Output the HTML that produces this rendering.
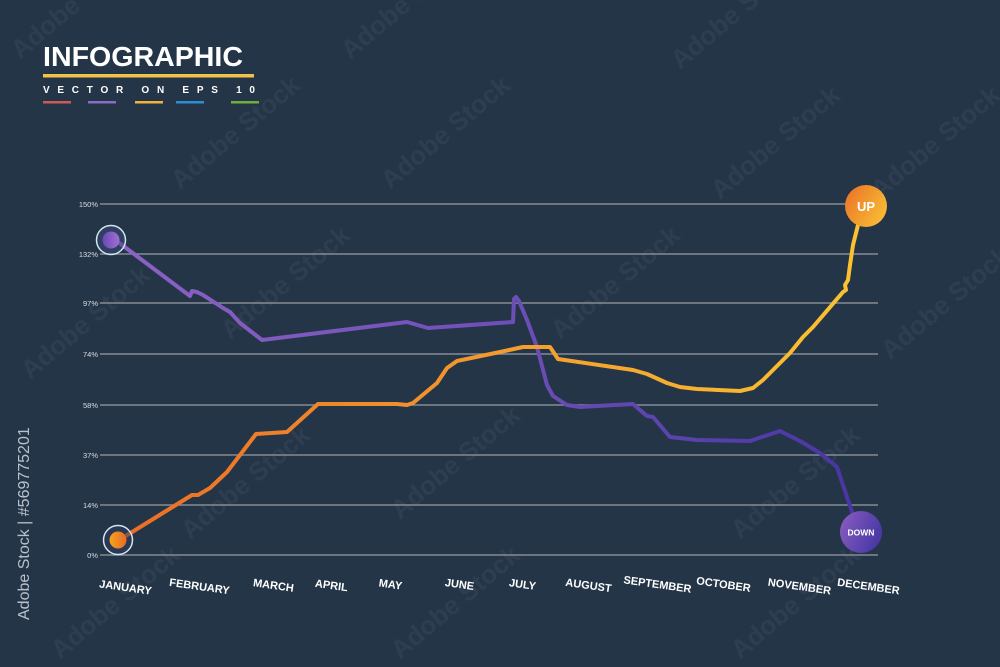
<!DOCTYPE html>
<html><head><meta charset="utf-8"><style>
html,body{margin:0;padding:0;background:#243548;}
svg{display:block;}
text{font-family:"Liberation Sans",sans-serif;}
</style></head><body>
<svg width="1000" height="667" viewBox="0 0 1000 667" xmlns="http://www.w3.org/2000/svg">
<defs>
<linearGradient id="pg" gradientUnits="userSpaceOnUse" x1="110" y1="0" x2="860" y2="0">
<stop offset="0" stop-color="#8d62c4"/><stop offset="0.5" stop-color="#7050b8"/><stop offset="1" stop-color="#4835a3"/>
</linearGradient>
<linearGradient id="og" gradientUnits="userSpaceOnUse" x1="110" y1="0" x2="870" y2="0">
<stop offset="0" stop-color="#ea6c26"/><stop offset="0.5" stop-color="#f39a2e"/><stop offset="1" stop-color="#fbc430"/>
</linearGradient>
<linearGradient id="upg" x1="0" y1="0" x2="1" y2="0.6">
<stop offset="0" stop-color="#ea6f27"/><stop offset="1" stop-color="#f8b934"/>
</linearGradient>
<linearGradient id="dng" x1="0" y1="0" x2="1" y2="0.4">
<stop offset="0" stop-color="#8b5ec2"/><stop offset="1" stop-color="#4b39a6"/>
</linearGradient>
<linearGradient id="pdot" x1="0" y1="0" x2="1" y2="0">
<stop offset="0" stop-color="#6a48b6"/><stop offset="1" stop-color="#a070d4"/>
</linearGradient>
<linearGradient id="odot" x1="0" y1="0" x2="1" y2="0">
<stop offset="0" stop-color="#f7a21e"/><stop offset="1" stop-color="#e86b27"/>
</linearGradient>
</defs>
<rect width="1000" height="667" fill="#243548"/>

<!-- faint watermarks -->
<g fill="#ffffff" opacity="0.05" font-size="26" font-weight="bold">
<text transform="translate(20,60) rotate(-40)">Adobe Stock</text>
<text transform="translate(180,190) rotate(-40)">Adobe Stock</text>
<text transform="translate(350,60) rotate(-40)">Adobe Stock</text>
<text transform="translate(390,190) rotate(-40)">Adobe Stock</text>
<text transform="translate(680,70) rotate(-40)">Adobe Stock</text>
<text transform="translate(720,200) rotate(-40)">Adobe Stock</text>
<text transform="translate(880,200) rotate(-40)">Adobe Stock</text>
<text transform="translate(30,380) rotate(-40)">Adobe Stock</text>
<text transform="translate(230,340) rotate(-40)">Adobe Stock</text>
<text transform="translate(560,340) rotate(-40)">Adobe Stock</text>
<text transform="translate(890,360) rotate(-40)">Adobe Stock</text>
<text transform="translate(190,540) rotate(-40)">Adobe Stock</text>
<text transform="translate(400,520) rotate(-40)">Adobe Stock</text>
<text transform="translate(740,540) rotate(-40)">Adobe Stock</text>
<text transform="translate(60,660) rotate(-40)">Adobe Stock</text>
<text transform="translate(400,660) rotate(-40)">Adobe Stock</text>
<text transform="translate(740,660) rotate(-40)">Adobe Stock</text>
</g>

<!-- header -->
<text x="43" y="66" fill="#ffffff" font-size="28" font-weight="bold" textLength="200" lengthAdjust="spacingAndGlyphs">INFOGRAPHIC</text>
<rect x="43" y="74" width="211" height="3.5" fill="#f3c24b"/>
<text x="43" y="93" fill="#ffffff" font-size="10" font-weight="bold" textLength="212" lengthAdjust="spacing">VECTOR ON EPS 10</text>
<rect x="43" y="101" width="28" height="2.5" fill="#cc5a5a"/>
<rect x="88" y="101" width="28" height="2.5" fill="#8a6cc4"/>
<rect x="135" y="101" width="28" height="2.5" fill="#f2b13b"/>
<rect x="176" y="101" width="28" height="2.5" fill="#2a8fd6"/>
<rect x="231" y="101" width="28" height="2.5" fill="#6fae3e"/>

<!-- side text -->
<text transform="translate(29,620) rotate(-90)" fill="#b9c2cc" font-size="16">Adobe Stock | #569775201</text>

<!-- grid -->
<g stroke="#858b93" stroke-width="1.6">
<line x1="100" y1="204" x2="878" y2="204"/>
<line x1="100" y1="254" x2="878" y2="254"/>
<line x1="100" y1="303" x2="878" y2="303"/>
<line x1="100" y1="354" x2="878" y2="354"/>
<line x1="100" y1="405" x2="878" y2="405"/>
<line x1="100" y1="455" x2="878" y2="455"/>
<line x1="100" y1="505" x2="878" y2="505"/>
<line x1="100" y1="555" x2="878" y2="555"/>
</g>
<g fill="#d8dde3" font-size="7.5" text-anchor="end">
<text x="98" y="207">150%</text>
<text x="98" y="257">132%</text>
<text x="98" y="306">97%</text>
<text x="98" y="357">74%</text>
<text x="98" y="408">58%</text>
<text x="98" y="458">37%</text>
<text x="98" y="508">14%</text>
<text x="98" y="558">0%</text>
</g>

<!-- month labels -->
<g fill="#ffffff" font-size="11" font-weight="bold" text-anchor="middle">
<text transform="translate(125,591) rotate(8)">JANUARY</text>
<text transform="translate(199,590) rotate(8)">FEBRUARY</text>
<text transform="translate(273,589) rotate(8)">MARCH</text>
<text transform="translate(331,589) rotate(8)">APRIL</text>
<text transform="translate(390,588) rotate(8)">MAY</text>
<text transform="translate(459,588) rotate(8)">JUNE</text>
<text transform="translate(522,588) rotate(8)">JULY</text>
<text transform="translate(588,589) rotate(8)">AUGUST</text>
<text transform="translate(657,588) rotate(8)">SEPTEMBER</text>
<text transform="translate(723,588) rotate(8)">OCTOBER</text>
<text transform="translate(799,590) rotate(8)">NOVEMBER</text>
<text transform="translate(868,590) rotate(8)">DECEMBER</text>
</g>

<!-- purple line -->
<polyline fill="none" stroke="url(#pg)" stroke-width="4" stroke-linejoin="round" stroke-linecap="round"
points="118,242 190,296 192,291 197,292 203,295 223,308 230,312 240,323 262,340 407,322 428,328 513,322 514,299 516,297 519,301 527,320 537,347 547,385 553,396 567,405 580,407 633,404 647,416 653,417 670,437 697,440 750,441 780,431 800,441 820,453 837,467 843,485 852,512"/>

<!-- orange line -->
<polyline fill="none" stroke="url(#og)" stroke-width="4" stroke-linejoin="round" stroke-linecap="round"
points="124,537 192,495 198,495 210,488 227,472 240,455 256,434 287,432 318,404 397,404 407,405 413,403 437,383 447,368 457,361 500,352 523,347 550,347 558,359 633,370 647,374 667,383 680,387 697,389 740,391 753,388 763,380 790,353 803,337 813,327 843,292 846,290 845,285 848,280 850,265 853,245 858,225 864,210"/>

<!-- start markers -->
<circle cx="111" cy="240" r="14.5" fill="#3a4a78" fill-opacity="0.5" stroke="#d4e4f4" stroke-width="1.5"/>
<circle cx="111" cy="240" r="8.5" fill="url(#pdot)"/>
<circle cx="118" cy="540" r="14.5" fill="#2e3e5e" fill-opacity="0.5" stroke="#d4e4f4" stroke-width="1.5"/>
<circle cx="118" cy="540" r="8.5" fill="url(#odot)"/>

<!-- end markers -->
<circle cx="866" cy="206" r="21" fill="url(#upg)"/>
<text x="866" y="211" fill="#ffffff" font-size="13" font-weight="bold" text-anchor="middle">UP</text>
<circle cx="861" cy="532" r="21" fill="url(#dng)"/>
<text x="861" y="535.5" fill="#ffffff" font-size="8.5" font-weight="bold" text-anchor="middle">DOWN</text>
</svg>
</body></html>
